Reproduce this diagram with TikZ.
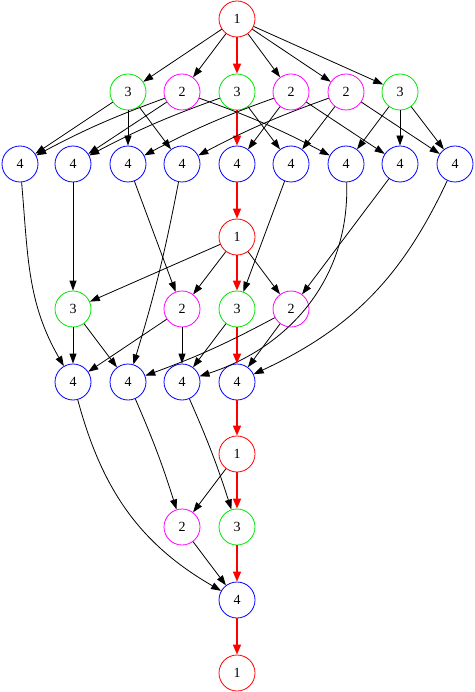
\documentclass[tikz,border=0pt]{standalone}
\usepackage{fontspec}
\setmainfont{Liberation Serif}
\usetikzlibrary{arrows.meta}
\definecolor{gvred}{RGB}{255,0,0}
\definecolor{gvgreen}{RGB}{0,230,0}
\definecolor{gvmag}{RGB}{255,0,255}
\definecolor{gvblue}{RGB}{0,0,255}
\begin{document}
\begin{tikzpicture}[x=1pt,y=1pt,
  vtx/.style={circle, draw, minimum size=36pt, inner sep=0pt, line width=0.8pt, font=\fontsize{14}{14}\selectfont},
  cone/.style={vtx, draw=gvred},
  ctwo/.style={vtx, draw=gvmag},
  cthree/.style={vtx, draw=gvgreen},
  cfour/.style={vtx, draw=gvblue},
  e/.style={-{Triangle[length=10pt,width=7pt]}, line width=0.8pt, black},
  re/.style={-{Triangle[length=10pt,width=8pt]}, line width=1.6pt, gvred}]
\useasboundingbox (0,0) rectangle (474,-692);
% nodes
\node[cone] (p0) at (237,-19) {1};
\node[cthree] (a) at (128,-92) {3};
\node[ctwo] (b) at (182,-92) {2};
\node[cthree] (c) at (237,-92) {3};
\node[ctwo] (d) at (291,-92) {2};
\node[ctwo] (e) at (346,-92) {2};
\node[cthree] (f) at (400,-92) {3};
\foreach \i/\x in {0/20,1/73,2/128,3/182,4/237,5/291,6/346,7/400,8/455}
  \node[cfour] (q\i) at (\x,-164) {4};
\node[cone] (p1) at (237,-237) {1};
\node[cthree] (g) at (73,-309) {3};
\node[ctwo] (h) at (182,-309) {2};
\node[cthree] (i) at (237,-309) {3};
\node[ctwo] (j) at (291,-309) {2};
\foreach \i/\x in {0/73,1/128,2/182,3/237}
  \node[cfour] (r\i) at (\x,-382) {4};
\node[cone] (p2) at (237,-454) {1};
\node[ctwo] (k) at (182,-527) {2};
\node[cthree] (l) at (237,-527) {3};
\node[cfour] (s) at (237,-600) {4};
\node[cone] (p3) at (237,-673) {1};
% row 0 -> row 1
\draw[e] (p0) -- (a);
\draw[e] (p0) -- (b);
\draw[re] (p0) -- (c);
\draw[e] (p0) -- (d);
\draw[e] (p0) -- (e);
\draw[e] (p0) -- (f);
% row 1 -> row 2
\draw[e] (a) -- (q0);
\draw[e] (a) -- (q2);
\draw[e] (a) -- (q3);
\draw[e] (b) to[bend right=4] (q0);
\draw[e] (b) -- (q1);
\draw[e] (b) to[bend left=4] (q6);
\draw[e] (c) to[bend right=4] (q1);
\draw[re] (c) -- (q4);
\draw[e] (c) -- (q5);
\draw[e] (d) to[bend right=4] (q2);
\draw[e] (d) -- (q4);
\draw[e] (d) -- (q7);
\draw[e] (e) to[bend right=4] (q3);
\draw[e] (e) -- (q5);
\draw[e] (e) -- (q8);
\draw[e] (f) -- (q6);
\draw[e] (f) -- (q7);
\draw[e] (f) -- (q8);
% row 2 -> rows 3,4,5
\draw[e] (q0) to[out=-85,in=120] (r0);
\draw[e] (q1) -- (g);
\draw[e] (q2) -- (h);
\draw[e] (q3) to[bend left=3] (r1);
\draw[re] (q4) -- (p1);
\draw[e] (q5) -- (i);
\draw[e] (q6) to[out=-88,in=18] (r2);
\draw[e] (q7) -- (j);
\draw[e] (q8) to[out=-115,in=25] (r3);
\draw[e] (p1) -- (g);
\draw[e] (p1) -- (h);
\draw[re] (p1) -- (i);
\draw[e] (p1) -- (j);
\draw[e] (g) -- (r0);
\draw[e] (g) -- (r1);
\draw[e] (h) -- (r0);
\draw[e] (h) -- (r2);
\draw[e] (i) -- (r2);
\draw[re] (i) -- (r3);
\draw[e] (j) to[bend left=4] (r1);
\draw[e] (j) -- (r3);
% row 5 -> bottom
\draw[e] (r0) to[out=-75,in=150] (s);
\draw[e] (r1) to[bend left=3] (k);
\draw[e] (r2) to[bend left=3] (l);
\draw[re] (r3) -- (p2);
\draw[e] (p2) -- (k);
\draw[re] (p2) -- (l);
\draw[e] (k) -- (s);
\draw[re] (l) -- (s);
\draw[re] (s) -- (p3);
\end{tikzpicture}
\end{document}
